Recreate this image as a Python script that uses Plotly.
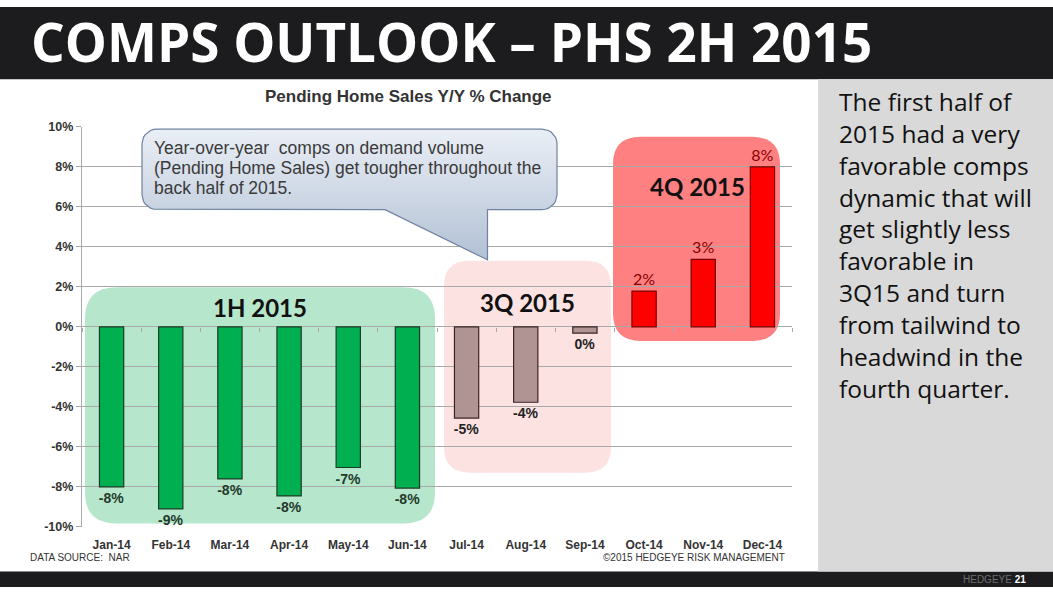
import numpy as np
import plotly.graph_objects as go

W, H = 1053, 594

# ---------------- data ----------------
months = ["Jan-14", "Feb-14", "Mar-14", "Apr-14", "May-14", "Jun-14",
          "Jul-14", "Aug-14", "Sep-14", "Oct-14", "Nov-14", "Dec-14"]
yoy_change = [-8.0, -9.1, -7.6, -8.45, -7.03, -8.06,
              -4.56, -3.77, -0.32, 1.78, 3.37, 7.99]
period = ["1H"] * 6 + ["3Q"] * 3 + ["4Q"] * 3
y_ticks = [-10, -8, -6, -4, -2, 0, 2, 4, 6, 8, 10]
y_tick_text = [f"{v}%" for v in y_ticks]

title_text = "COMPS OUTLOOK – PHS 2H 2015"
chart_title = "Pending Home Sales Y/Y % Change"
callout_lines = ["Year-over-year&nbsp; comps on demand volume",
                 "(Pending Home Sales) get tougher throughout the",
                 "back half of 2015."]
side_text = ("The first half of<br>2015 had a very<br>favorable comps<br>"
             "dynamic that will<br>get slightly less<br>favorable in<br>"
             "3Q15 and turn<br>from tailwind to<br>headwind in the<br>fourth quarter.")

# ---------------- styles ----------------
fill_by_period = {"1H": "#00b050", "3Q": "#b09494", "4Q": "#ff0000"}
edge_by_period = {"1H": "#1c3b27", "3Q": "#3a2424", "4Q": "#7a0000"}
label_color = {"1H": "#1f3a2a", "3Q": "#222222", "4Q": "#8b0000"}
label_font = {"1H": "Arial", "3Q": "Arial", "4Q": "Lato"}
label_size = {"1H": 14, "3Q": 14, "4Q": 16}
label_weight = {"1H": "bold", "3Q": "bold", "4Q": "normal"}


def px(x):
    return x / W


def py(y):
    return 1 - y / H


plot_left, plot_right, plot_top, plot_bottom = 82, 792, 122.5, 532.5

labels = [f"{round(v):.0f}%" for v in yoy_change]

fig = go.Figure()

fig.add_trace(go.Bar(
    x=months, y=yoy_change,
    width=0.41,
    marker=dict(color=[fill_by_period[p] for p in period],
                line=dict(color=[edge_by_period[p] for p in period], width=1.2)),
    text=labels, textposition="outside", constraintext="none", cliponaxis=False,
    textfont=dict(color=[label_color[p] for p in period],
                  family=[label_font[p] for p in period],
                  size=[label_size[p] for p in period],
                  weight=[label_weight[p] for p in period]),
    hoverinfo="skip", showlegend=False,
))

# invisible trace to carry the zero-line tick marks axis
fig.add_trace(go.Scatter(x=months, y=[None] * len(months), xaxis="x3", yaxis="y",
                         mode="markers", showlegend=False, hoverinfo="skip"))


# ------------- callout (pixel-space overlay subplot) -------------
def rounded_rect_pts(x0, y0, x1, y1, r, n=8):
    pts = []
    corners = [(x1 - r, y0 + r, -90, 0), (x1 - r, y1 - r, 0, 90),
               (x0 + r, y1 - r, 90, 180), (x0 + r, y0 + r, 180, 270)]
    for cx, cy, a0, a1 in corners:
        for a in np.linspace(np.radians(a0), np.radians(a1), n):
            pts.append((cx + r * np.cos(a), cy + r * np.sin(a)))
    return pts


cx0, cy0, cx1, cy1, cr = 142, 125, 557, 207.5, 15
box = rounded_rect_pts(cx0, cy0, cx1, cy1, cr)
idx = 16
tail = [(487.5, cy1), (487.5, 259), (385, cy1)]
outline = box[:idx] + tail + box[idx:] + [box[0]]
fig.add_trace(go.Scatter(
    x=[p[0] for p in outline], y=[p[1] for p in outline],
    xaxis="x2", yaxis="y2", mode="lines", fill="toself",
    line=dict(color="#6d83a0", width=1.2),
    fillgradient=dict(type="vertical", start=125, stop=259,
                      colorscale=[[0, "#e9eef5"], [1, "#afbed3"]]),
    hoverinfo="skip", showlegend=False,
))


def rrect_path(x0, y0, x1, y1, r):
    X = lambda v: px(v)
    Y = lambda v: py(v)
    return (f"M {X(x0 + r)},{Y(y0)} L {X(x1 - r)},{Y(y0)} Q {X(x1)},{Y(y0)} {X(x1)},{Y(y0 + r)} "
            f"L {X(x1)},{Y(y1 - r)} Q {X(x1)},{Y(y1)} {X(x1 - r)},{Y(y1)} "
            f"L {X(x0 + r)},{Y(y1)} Q {X(x0)},{Y(y1)} {X(x0)},{Y(y1 - r)} "
            f"L {X(x0)},{Y(y0 + r)} Q {X(x0)},{Y(y0)} {X(x0 + r)},{Y(y0)} Z")


shapes = [
    dict(type="rect", xref="paper", yref="paper", x0=0, x1=1, y0=py(74), y1=1,
         fillcolor="#1c1c1e", line=dict(width=0), layer="below"),
    dict(type="rect", xref="paper", yref="paper", x0=0, x1=1, y0=0, y1=py(578),
         fillcolor="#1c1c1e", line=dict(width=0), layer="below"),
    dict(type="rect", xref="paper", yref="paper", x0=px(818), x1=1, y0=py(578), y1=py(74),
         fillcolor="#d9d9d9", line=dict(width=0), layer="below"),
    dict(type="path", xref="paper", yref="paper", path=rrect_path(85, 287, 435, 529, 32),
         fillcolor="#b6e6cc", line=dict(width=0), layer="below"),
    dict(type="path", xref="paper", yref="paper", path=rrect_path(444, 260, 611, 477, 26),
         fillcolor="#fde2e2", line=dict(width=0), layer="below"),
    dict(type="path", xref="paper", yref="paper", path=rrect_path(613, 133, 780, 342, 28),
         fillcolor="#ff8080", line=dict(width=0), layer="below"),
]

annotations = [
    dict(text=f"<b>{title_text}</b>", x=px(29), y=py(35), xanchor="left", yanchor="middle",
         font=dict(family="Open Sans", size=53, color="#ffffff", weight=800)),
    dict(text=f"<b>{chart_title}</b>", x=px(408), y=py(92), xanchor="center", yanchor="middle",
         font=dict(family="Arial", size=17, color="#333333")),
    dict(text="<b>1H 2015</b>", x=px(260), y=py(308), xanchor="center", yanchor="middle",
         font=dict(family="Lato", size=24, color="#111111")),
    dict(text="<b>3Q 2015</b>", x=px(527), y=py(303), xanchor="center", yanchor="middle",
         font=dict(family="Lato", size=24, color="#111111")),
    dict(text="<b>4Q 2015</b>", x=px(697), y=py(184), xanchor="center", yanchor="middle",
         font=dict(family="Lato", size=24, color="#111111")),
    dict(text="DATA SOURCE:  NAR", x=px(28), y=py(564), xanchor="left", yanchor="middle",
         font=dict(family="Arial", size=10, color="#333333")),
    dict(text="©2015 HEDGEYE RISK MANAGEMENT", x=px(787), y=py(564), xanchor="right",
         yanchor="middle", font=dict(family="Arial", size=10, color="#333333")),
    dict(text=side_text, x=px(837), y=py(78), xanchor="left", yanchor="top", align="left",
         font=dict(family="Open Sans", size=24.5, color="#111111")),
    dict(text="HEDGEYE <b><span style='color:#ffffff'>21</span></b>", x=px(1028), y=py(586),
         xanchor="right", yanchor="middle", font=dict(family="Arial", size=10, color="#6e6e6e")),
]
for line, yc in zip(callout_lines, [144, 164.5, 185]):
    annotations.append(dict(text=line, x=px(152), y=py(yc), xanchor="left", yanchor="middle",
                            font=dict(family="Arial", size=17.5, color="#3a3a3a")))
for a in annotations:
    a.update(xref="paper", yref="paper", showarrow=False)

zero_pos = py(plot_top + (plot_bottom - plot_top) * 10 / 20)

fig.update_layout(
    width=W, height=H, margin=dict(l=0, r=0, t=0, b=0),
    paper_bgcolor="#ffffff", plot_bgcolor="rgba(0,0,0,0)",
    showlegend=False, bargap=0.59,
    shapes=shapes, annotations=annotations,
    xaxis=dict(domain=[px(plot_left), px(plot_right)], type="category",
               categoryarray=months, range=[-0.5, 11.5], showgrid=False,
               showline=False, ticks="", zeroline=False,
               tickfont=dict(family="Arial", size=12, color="#333333", weight="bold"),
               ticklabelstandoff=9, fixedrange=True),
    yaxis=dict(domain=[py(plot_bottom), py(plot_top)], range=[-10, 10],
               tickvals=y_ticks, ticktext=y_tick_text, showgrid=True, gridcolor="#a9a9a9",
               gridwidth=1, zeroline=False, showline=True, linecolor="#a9a9a9",
               linewidth=1.2, ticks="outside", ticklen=5, tickcolor="#a9a9a9",
               tickfont=dict(family="Arial", size=12.5, color="#333333", weight="bold"),
               fixedrange=True),
    xaxis3=dict(overlaying="x", anchor="free", position=zero_pos, type="category",
                categoryarray=months, range=[-0.5, 11.5], showgrid=False, showline=False,
                ticks="outside", ticklen=4, tickcolor="#a9a9a9", tickson="boundaries",
                showticklabels=False, zeroline=False),
    xaxis2=dict(domain=[0, 1], anchor="y2", range=[0, W], visible=False, fixedrange=True),
    yaxis2=dict(domain=[0, 1], anchor="x2", range=[H, 0], visible=False, fixedrange=True),
)

fig.write_html("out.html", config={"displayModeBar": False},
               post_script="document.body.style.margin='0';document.body.style.overflow='hidden';")
